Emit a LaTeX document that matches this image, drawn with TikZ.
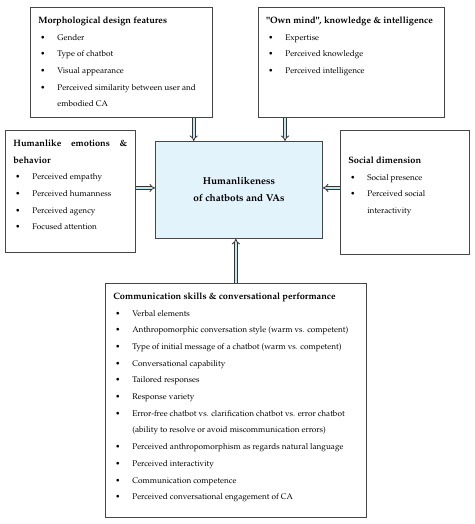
\documentclass[tikz,border=0pt]{standalone}
\usepackage[T1]{fontenc}
\usepackage{mathpazo}
\usepackage{enumitem}
\usetikzlibrary{arrows.meta, positioning}
\definecolor{hubfill}{RGB}{226, 243, 251}
\definecolor{linkfill}{RGB}{196, 232, 242}
\definecolor{frame}{RGB}{70, 70, 70}
\setlist[itemize]{label=\textbullet, leftmargin=19pt, labelsep=0pt, labelwidth=17pt, align=left, topsep=0pt, partopsep=0pt, itemsep=0pt, parsep=0pt}
\newcommand{\boxhead}[1]{{\fontsize{9.2}{16.7}\selectfont\bfseries #1\par}}
\hyphenpenalty=10000

\begin{document}
\begin{tikzpicture}[
        x=1pt, y=-1pt,
        infobox/.style={rectangle, draw=frame, line width=0.7pt, fill=white, anchor=north west, align=justify, inner xsep=8pt, inner ysep=8pt, text height=8pt, font=\fontsize{8.2}{16.7}\selectfont},
        hub/.style={rectangle, draw=frame, line width=0.8pt, fill=hubfill, anchor=north west, align=center, minimum width=167pt, minimum height=97pt, font=\fontsize{10}{17}\selectfont\bfseries},
        link/.style={-{Implies}, line width=0.8pt, draw=black!80, double=linkfill, double distance=2pt}
    ]
        \useasboundingbox (0,0) rectangle (474,524);

        \node[hub] (hub) at (155,141) {Humanlikeness\\of chatbots and VAs};

        \node[infobox, text width=166pt, text depth=86pt] (morph) at (30,7) {%
            \boxhead{Morphological design features}
            \begin{itemize}
                \item Gender
                \item Type of chatbot
                \item Visual appearance
                \item Perceived similarity between user and\newline embodied CA
            \end{itemize}};

        \node[infobox, text width=170pt, text depth=86pt] (mind) at (258,7) {%
            \boxhead{"Own mind", knowledge \& intelligence}
            \begin{itemize}
                \item Expertise
                \item Perceived knowledge
                \item Perceived intelligence
            \end{itemize}};

        \node[infobox, text width=114pt, text depth=98pt] (emo) at (5,130) {%
            \boxhead{Humanlike emotions \& behavior}
            \begin{itemize}
                \item Perceived empathy
                \item Perceived humanness
                \item Perceived agency
                \item Focused attention
            \end{itemize}};

        \node[infobox, text width=113pt, text height=25pt, text depth=83pt] (social) at (340,130) {%
            \boxhead{Social dimension}
            \begin{itemize}
                \item Social presence
                \item Perceived social\newline interactivity
            \end{itemize}};

        \node[infobox, text width=245pt, text depth=210pt] (comm) at (105,283) {%
            \boxhead{Communication skills \& conversational performance}
            \begin{itemize}
                \item Verbal elements
                \item Anthropomorphic conversation style (warm vs. competent)
                \item Type of initial message of a chatbot (warm vs. competent)
                \item Conversational capability
                \item Tailored responses
                \item Response variety
                \item Error-free chatbot vs. clarification chatbot vs. error chatbot\newline (ability to resolve or avoid miscommunication errors)
                \item Perceived anthropomorphism as regards natural language
                \item Perceived interactivity
                \item Communication competence
                \item Perceived conversational engagement of CA
            \end{itemize}};

        \draw[link] ([xshift=-19pt]morph.south east) -- ([xshift=-19pt]morph.south east |- hub.north);
        \draw[link] ([xshift=27pt]mind.south west) -- ([xshift=27pt]mind.south west |- hub.north);
        \draw[link] ([yshift=2pt]emo.east |- hub.west) -- ([yshift=2pt]hub.west);
        \draw[link] ([yshift=2pt]social.west |- hub.east) -- ([yshift=2pt]hub.east);
        \draw[link] (comm.north) -- (comm.north |- hub.south);
    \end{tikzpicture}
\end{document}
